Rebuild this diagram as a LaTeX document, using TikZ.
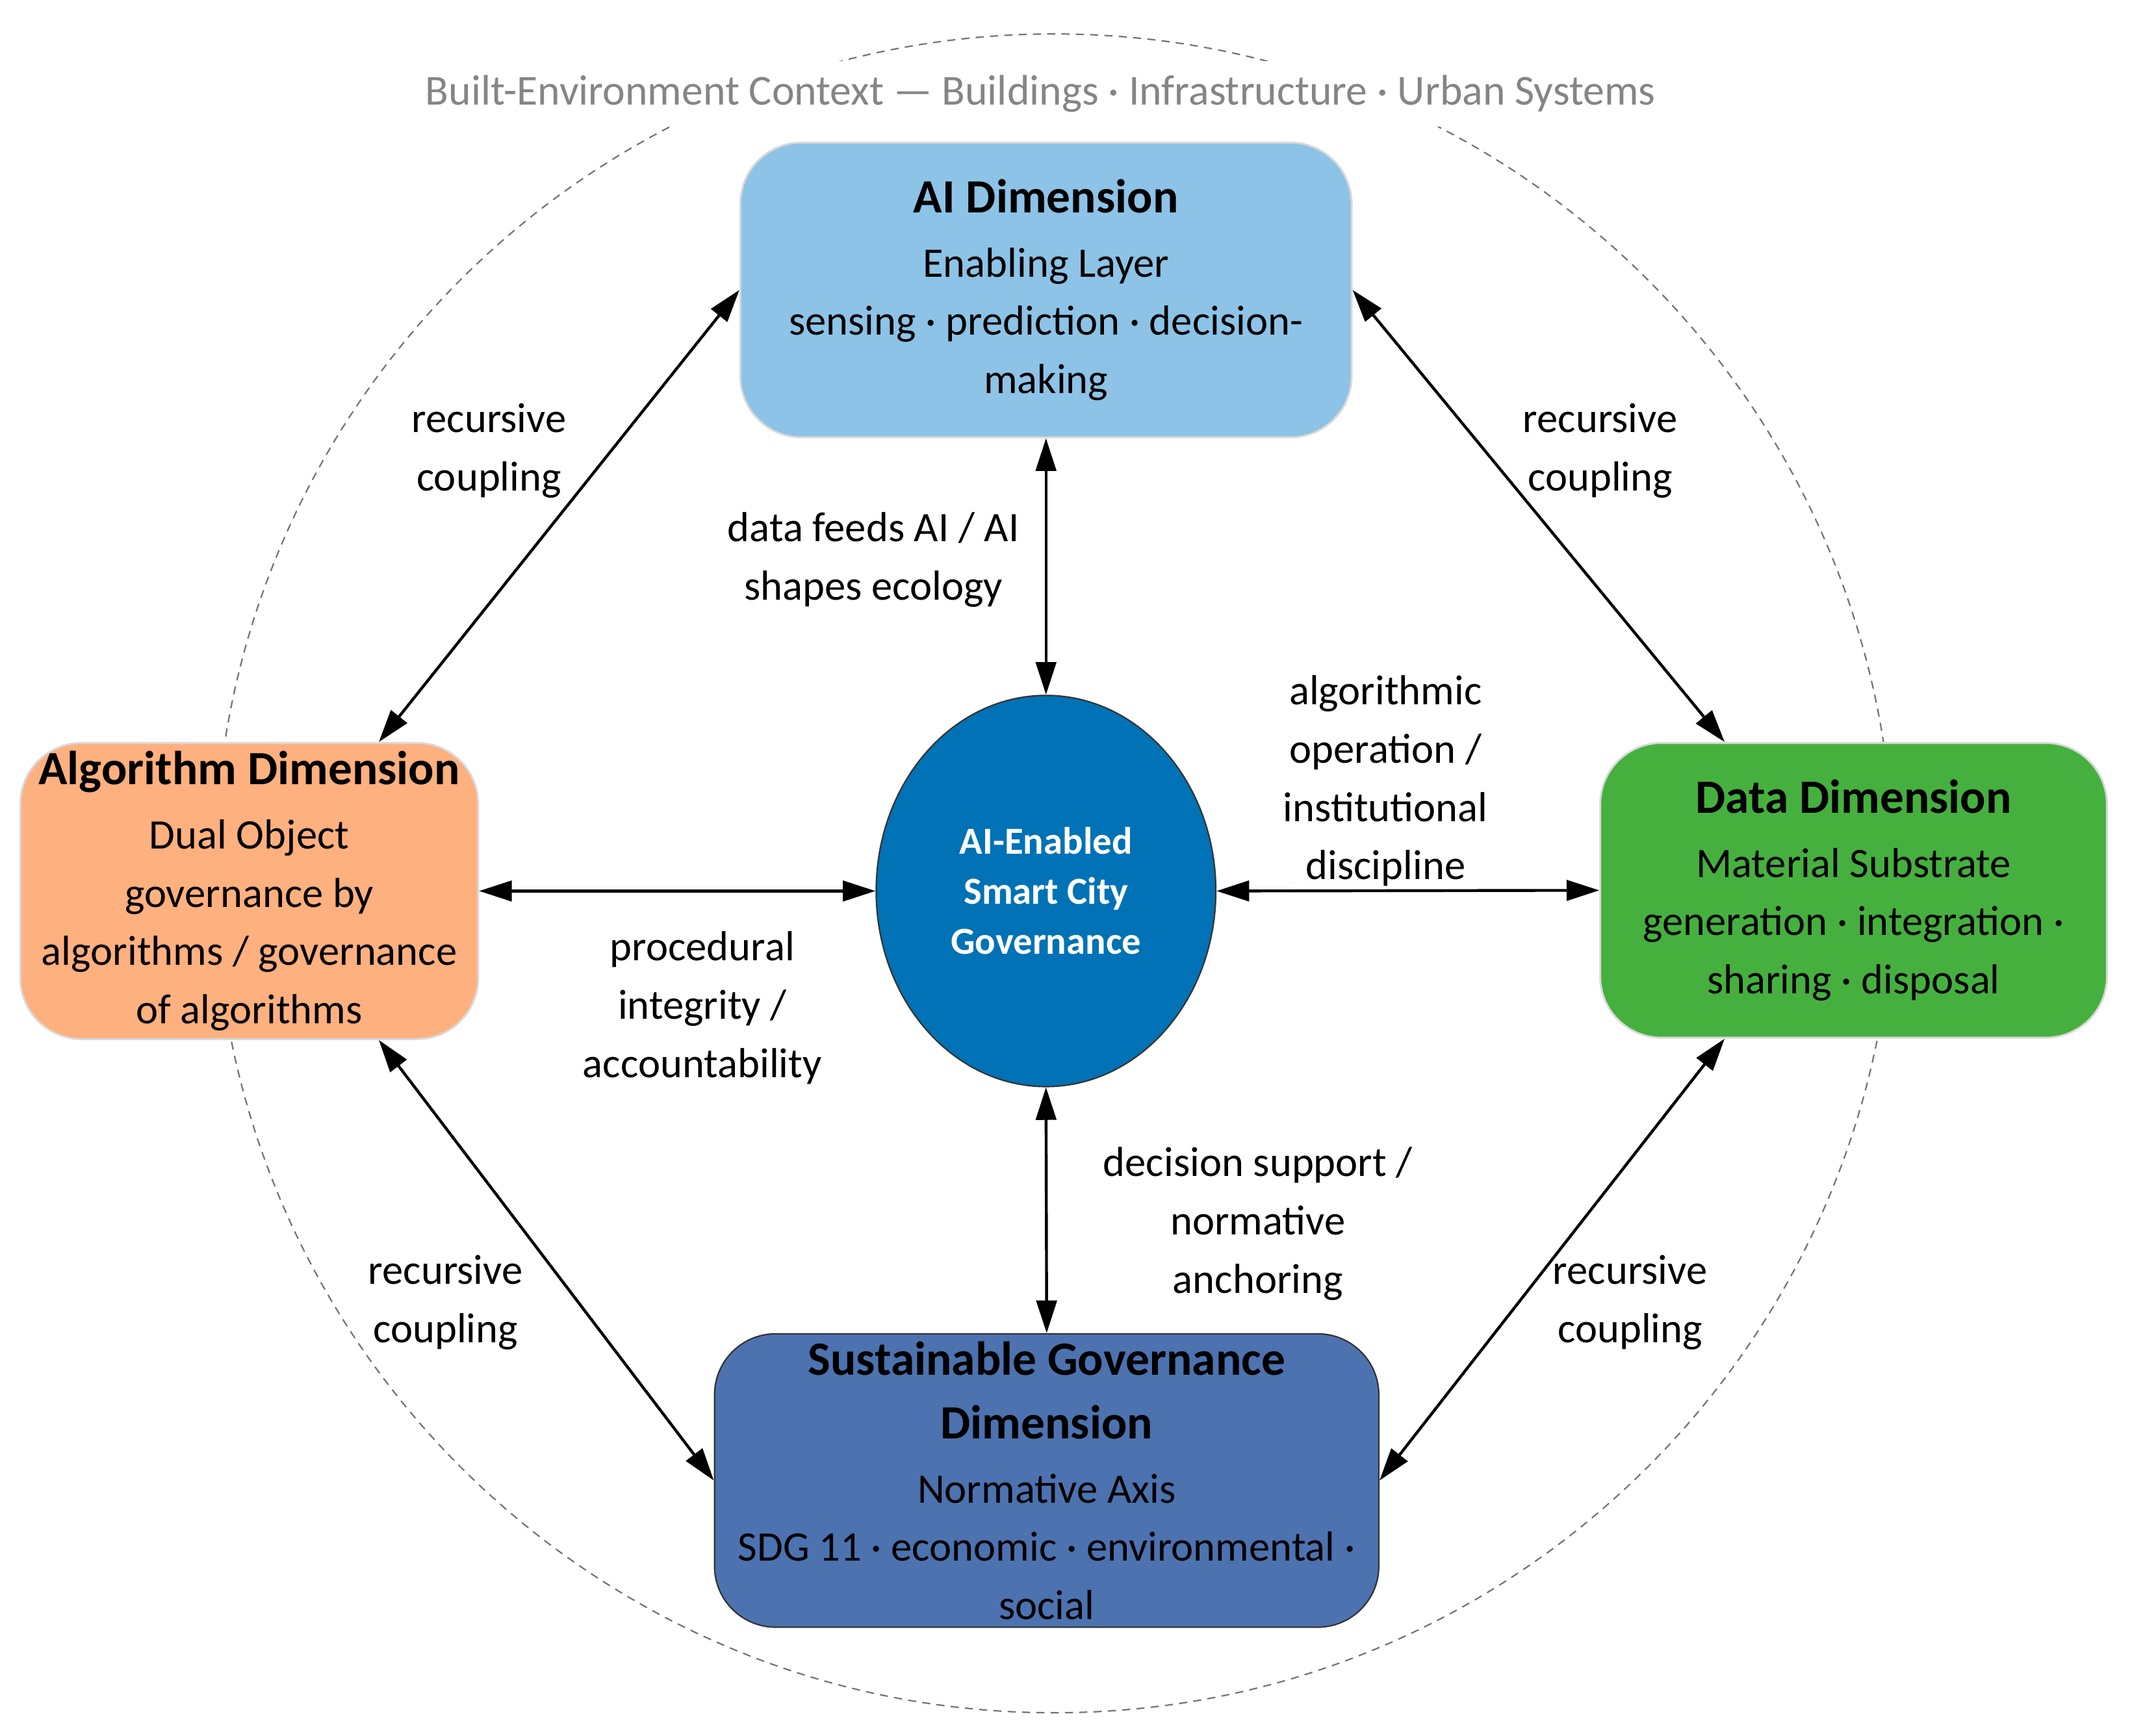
\documentclass[tikz,border=0pt]{standalone}
\usepackage{fontspec}
\setmainfont{Carlito}
\usetikzlibrary{arrows.meta,shapes.geometric}
\definecolor{aiblue}{HTML}{8DC3E6}
\definecolor{algpeach}{HTML}{FFB07F}
\definecolor{datagreen}{HTML}{46B03F}
\definecolor{sustblue}{HTML}{4C72B0}
\definecolor{hubblue}{HTML}{0072B5}
\definecolor{ctxgray}{HTML}{858585}
\newcommand{\dimtitle}[1]{{\fontsize{10}{13}\selectfont\bfseries #1}}

\begin{document}
\begin{tikzpicture}[every node/.style={font=\fontsize{8.8}{12.2}\selectfont}, >={Triangle[length=2.4mm, width=1.5mm]},
	dimbox/.style={rectangle, rounded corners=4.5mm, align=center, inner sep=0pt, draw=gray!30, line width=0.4pt},
	hub/.style={ellipse, fill=hubblue, draw=black!80, line width=0.3pt, minimum width=2.5cm, minimum height=2.88cm, inner sep=0pt, align=center, text=white, font=\fontsize{8}{10.5}\selectfont\bfseries},
	link/.style={<->, line width=0.6pt},
	note/.style={align=center}]
	\useasboundingbox (0,0) rectangle (15.68,12.78);
	\draw[black!55, line width=0.3pt, dash pattern=on 1.7pt off 1.3pt] (7.76,6.35) circle (6.18);
	\node[fill=white, text=ctxgray, inner sep=3pt, font=\fontsize{8.95}{12}\selectfont] (context) at (7.66,12.09) {Built-Environment Context — Buildings · Infrastructure · Urban Systems};
	\node[dimbox, fill=aiblue, minimum width=4.5cm, minimum height=2.17cm] (ai) at (7.70,10.645) {\dimtitle{AI Dimension}\\[1.2pt] Enabling Layer\\ sensing · prediction · decision-\\ making};
	\node[dimbox, fill=algpeach, minimum width=3.37cm, minimum height=2.18cm] (alg) at (1.835,6.22) {\dimtitle{Algorithm Dimension}\\[1.2pt] Dual Object\\ governance by\\ algorithms / governance\\ of algorithms};
	\node[dimbox, fill=datagreen, minimum width=3.73cm, minimum height=2.17cm] (data) at (13.645,6.225) {\dimtitle{Data Dimension}\\[1.2pt] Material Substrate\\ generation · integration ·\\ sharing · disposal};
	\node[dimbox, fill=sustblue, draw=black!80, line width=0.3pt, minimum width=4.89cm, minimum height=2.16cm] (sust) at (7.705,1.88) {\dimtitle{Sustainable Governance}\\[1.2pt] \dimtitle{Dimension}\\[1.2pt] Normative Axis\\ SDG 11 · economic · environmental ·\\ social};
	\node[hub] (hub) at (7.70,6.22) {AI-Enabled\\ Smart City\\ Governance};
	\draw[link] (ai.west) -- (alg.49);
	\draw[link] (ai.east) -- (data.131);
	\draw[link] (alg.311) -- (sust.west);
	\draw[link] (data.229) -- (sust.east);
	\draw[link] (ai.south) -- (hub.north);
	\draw[link] (hub.south) -- (sust.north);
	\draw[link] (alg.east) -- (hub.west);
	\draw[link] (hub.east) -- (data.west);
	\node[note] (cplAlgAI) at (3.60,9.46) {recursive\\ coupling};
	\node[note] (cplAIData) at (11.78,9.46) {recursive\\ coupling};
	\node[note] (cplAlgSust) at (3.28,3.19) {recursive\\ coupling};
	\node[note] (cplDataSust) at (12.00,3.19) {recursive\\ coupling};
	\node[note] (feeds) at (6.43,8.66) {data feeds AI / AI\\ shapes ecology};
	\node[note] (operation) at (10.20,7.03) {algorithmic\\ operation /\\ institutional\\ discipline};
	\node[note] (integrity) at (5.17,5.36) {procedural\\ integrity /\\ accountability};
	\node[note] (support) at (9.26,3.77) {decision support /\\ normative\\ anchoring};
\end{tikzpicture}
\end{document}
